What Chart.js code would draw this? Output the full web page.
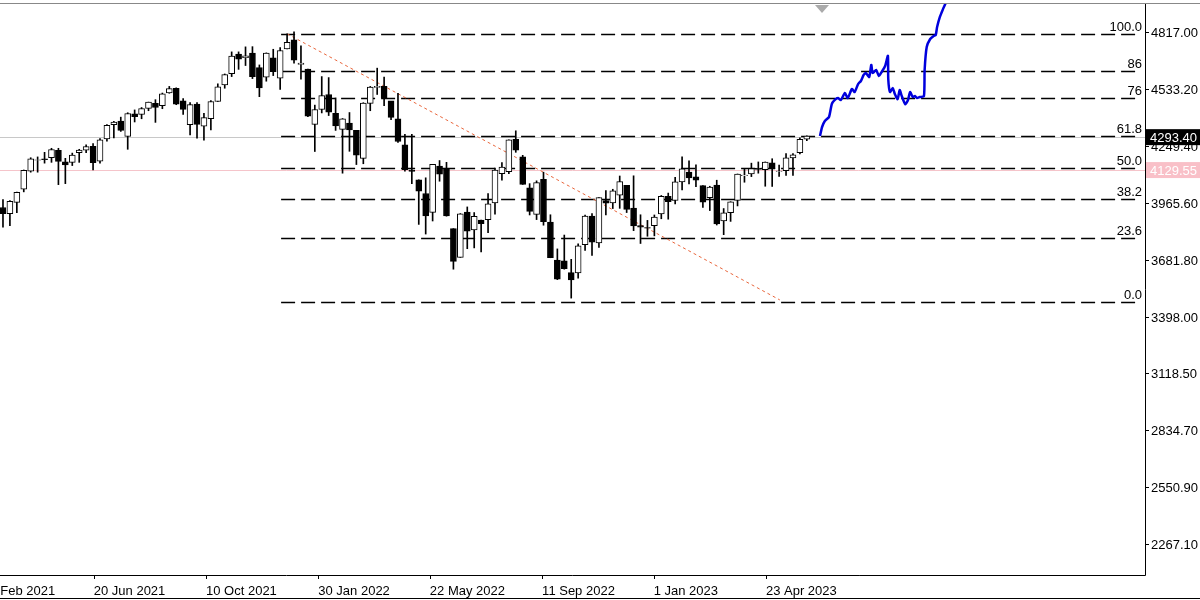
<!DOCTYPE html>
<html><head><meta charset="utf-8">
<script src="https://cdn.jsdelivr.net/npm/chart.js@4.4.0/dist/chart.umd.min.js"></script>
<style>html,body{margin:0;padding:0;background:#fff;}canvas{display:block;}</style>
</head><body>
<canvas id="c" width="1200" height="600"></canvas>
<script>
const opens=[3943,3913,3969,4034,4124,4179,4185,4191,4228,4170,4168,4216,4229,4248,4174,4285,4356,4373,4297,4409,4406,4437,4462,4450,4514,4536,4474,4355,4458,4348,4385,4471,4553,4610,4707,4689,4712,4640,4592,4688,4587,4733,4778,4655,4632,4357,4431,4506,4412,4332,4364,4327,4188,4462,4541,4547,4474,4385,4255,4130,4081,4013,3919,4149,4134,3838,3695,3920,3831,3880,3883,3966,4112,4122,4282,4195,4041,3909,4083,3871,3682,3678,3619,3617,3758,3901,3767,3978,3966,4005,4053,3940,3853,3843,3853,3911,3999,3978,4071,4119,4096,4052,3992,4055,3876,3917,3979,4102,4110,4140,4132,4166,4123,4126,4190,4216,4283];
const highs=[3983,3978,4020,4130,4191,4195,4218,4238,4238,4188,4214,4233,4255,4262,4286,4356,4372,4393,4415,4429,4441,4468,4480,4513,4546,4539,4486,4465,4466,4412,4475,4559,4608,4718,4718,4743,4744,4653,4713,4731,4740,4808,4818,4748,4632,4453,4595,4590,4489,4386,4416,4327,4465,4546,4637,4593,4471,4512,4308,4307,4081,4091,4158,4177,4168,3838,3913,3946,3918,3880,4012,4140,4167,4280,4325,4203,4062,4076,4119,3907,3737,3806,3685,3762,3905,3913,3993,4028,4034,4100,4053,4101,3907,3879,3906,4003,4015,4094,4195,4176,4156,4052,4049,4079,3938,3972,4110,4133,4164,4170,4170,4186,4154,4212,4212,4290,4300];
const lows=[3845,3853,3917,4021,4119,4119,4164,4168,4057,4062,4152,4168,4216,4130,4164,4273,4290,4322,4233,4369,4385,4425,4367,4435,4512,4455,4406,4305,4288,4278,4329,4471,4537,4595,4631,4650,4585,4495,4572,4600,4531,4733,4662,4582,4395,4222,4414,4401,4327,4114,4223,4157,4161,4425,4506,4450,4381,4267,4124,4062,3859,3811,3876,4074,3900,3636,3695,3738,3742,3722,3818,3910,4079,4112,4218,4058,3906,3883,3855,3693,3584,3636,3492,3591,3729,3704,3745,3906,3938,3939,3918,3828,3764,3800,3802,3887,3885,3961,4031,4060,4047,3944,3928,3856,3808,3874,3951,4069,4097,4114,4049,4048,4098,4103,4103,4210,4276];
const closes=[3913,3974,4019,4128,4185,4180,4181,4232,4173,4155,4204,4229,4247,4166,4280,4352,4369,4327,4411,4395,4436,4468,4441,4509,4535,4458,4432,4455,4357,4391,4471,4544,4605,4697,4682,4698,4595,4538,4712,4620,4725,4766,4677,4662,4398,4431,4500,4418,4349,4385,4329,4204,4463,4543,4546,4488,4392,4272,4132,4123,4024,3901,4158,4109,3901,3675,3912,3825,3899,3863,3962,4130,4145,4280,4228,4058,3924,4067,3873,3693,3586,3639,3583,3752,3901,3771,3993,3965,4026,4072,3934,3852,3845,3840,3895,3999,3972,4071,4136,4090,4079,3970,4045,3862,3917,3971,4109,4105,4137,4133,4169,4136,4124,4191,4205,4282,4299];
const projX=[117.9,118.2,118.6,119.2,119.6,120.0,120.5,120.9,121.5,121.9,122.5,122.9,123.4,123.8,124.2,124.5,125.0,125.3,125.5,126.0,126.4,126.8,127.3,127.7,127.75,128.0,128.4,128.7,129.1,129.4,129.7,130.2,130.6,130.9,131.3,131.6,131.9,132.3,132.9,133.0,133.3,133.8,134.3,134.6,134.8,135.2,135.6,136.1];
const projY=[4299,4344,4374,4394,4458,4478,4488,4478,4513,4488,4533,4518,4558,4573,4603,4613,4593,4653,4613,4628,4598,4618,4648,4698,4583,4518,4538,4508,4483,4528,4498,4458,4478,4518,4493,4498,4488,4493,4498,4628,4742,4782,4797,4802,4842,4892,4927,4966];
const yTicks=[4817.00,4533.20,4249.40,3965.60,3681.80,3398.00,3118.50,2834.70,2550.90,2267.10];
const xTickPos=[-3.0,13.1,29.3,45.5,61.6,77.8,93.9,110.1];
const xTickLabels=["28 Feb 2021","20 Jun 2021","10 Oct 2021","30 Jan 2022","22 May 2022","11 Sep 2022","1 Jan 2023","23 Apr 2023"];
const fibLevels=[0,23.6,38.2,50,61.8,76,86,100];
const fibLabels=["0.0","23.6","38.2","50.0","61.8","76","86","100.0"];
const fibHigh=4808, fibLow=3475, fibStart=41;
const trend=[[41,4808],[112.1,3483]];
const bidPrice=4293.40, askPrice=4129.55;

const bodies=opens.map((o,i)=>({x:i,y:[o,closes[i]]}));
const wicks=lows.map((l,i)=>({x:i,y:[l,highs[i]]}));
const bodyFill=opens.map((o,i)=>closes[i]>=o?'#ffffff':'#000000');
const FONT='"Liberation Sans"';

const overlay={id:'overlay',
 beforeDatasetsDraw(ch){const {ctx,chartArea:a,scales:{x,y}}=ch;ctx.save();
  ctx.lineWidth=1;
  ctx.strokeStyle='#c8c8c8';let yy=Math.round(y.getPixelForValue(bidPrice))+0.5;ctx.beginPath();ctx.moveTo(a.left,yy);ctx.lineTo(a.right,yy);ctx.stroke();
  ctx.strokeStyle='#f5c4ca';yy=Math.round(y.getPixelForValue(askPrice))+0.5;ctx.beginPath();ctx.moveTo(a.left,yy);ctx.lineTo(a.right,yy);ctx.stroke();
  ctx.strokeStyle='#000';ctx.setLineDash([14,6]);ctx.lineWidth=1.3;
  ctx.font='13px '+FONT;ctx.fillStyle='#000';ctx.textAlign='right';ctx.textBaseline='bottom';
  fibLevels.forEach((lv,k)=>{const v=fibLow+(fibHigh-fibLow)*lv/100;const py=Math.round(y.getPixelForValue(v))+0.5;
   ctx.beginPath();ctx.moveTo(x.getPixelForValue(fibStart)-6,py);ctx.lineTo(a.right-6,py);ctx.stroke();
   ctx.fillText(fibLabels[k],a.right-3,py-1);});
  ctx.setLineDash([3,3]);ctx.lineWidth=1;ctx.strokeStyle='#e8663c';ctx.beginPath();
  ctx.moveTo(x.getPixelForValue(trend[0][0]),y.getPixelForValue(trend[0][1]));ctx.lineTo(x.getPixelForValue(trend[1][0]),y.getPixelForValue(trend[1][1]));ctx.stroke();
  ctx.restore();},
 afterDraw(ch){const {ctx,chartArea:a,scales:{x,y}}=ch;ctx.save();
  ctx.strokeStyle='#000';ctx.lineWidth=1;ctx.beginPath();ctx.moveTo(a.right+0.5,a.top);ctx.lineTo(a.right+0.5,a.bottom+0.5);ctx.lineTo(a.left,a.bottom+0.5);ctx.stroke();
  ctx.beginPath();ctx.moveTo(0,598.5);ctx.lineTo(1200,598.5);ctx.stroke();
  ctx.strokeStyle='#888';ctx.beginPath();ctx.moveTo(0,a.top-0.5);ctx.lineTo(1200,a.top-0.5);ctx.stroke();
  ctx.fillStyle='#aaa';ctx.beginPath();ctx.moveTo(815,a.top+1);ctx.lineTo(829,a.top+1);ctx.lineTo(822,a.top+9);ctx.closePath();ctx.fill();
  ctx.strokeStyle='#000';
  ctx.font='13px '+FONT;ctx.textBaseline='middle';ctx.textAlign='left';ctx.fillStyle='#000';
  yTicks.forEach(v=>{const py=Math.round(y.getPixelForValue(v))+0.5;ctx.beginPath();ctx.moveTo(a.right,py);ctx.lineTo(a.right+4,py);ctx.stroke();
   ctx.fillText(v.toFixed(2),a.right+6,py+1);});
  xTickPos.forEach(v=>{const px=Math.round(x.getPixelForValue(v))+0.5;ctx.beginPath();ctx.moveTo(px,a.bottom);ctx.lineTo(px,a.bottom+4);ctx.stroke();});
  [[bidPrice,'#000000','#ffffff'],[askPrice,'#f9c0c8','#ffffff']].forEach(([v,bg,fg])=>{const py=y.getPixelForValue(v);
   ctx.fillStyle=bg;ctx.fillRect(a.right+1,py-8,54,16);ctx.fillStyle=fg;ctx.fillText(v.toFixed(2),a.right+5,py+1);});
  ctx.restore();}
};

new Chart(document.getElementById('c'),{
 data:{datasets:[
  {type:'bar',data:wicks,backgroundColor:'#000',borderWidth:0,barThickness:1,grouped:false,order:3},
  {type:'bar',data:bodies,backgroundColor:bodyFill,borderColor:'#000',borderWidth:1,borderSkipped:false,barThickness:6,grouped:false,order:2},
  {type:'line',data:projX.map((v,i)=>({x:v,y:projY[i]})),borderColor:'#0000dd',borderWidth:2.5,pointRadius:0,tension:0.2,order:1}
 ]},
 plugins:[overlay],
 options:{responsive:false,animation:false,
  layout:{padding:{top:4,left:0,right:0,bottom:0}},
  plugins:{legend:{display:false},tooltip:{enabled:false}},
  scales:{
   x:{type:'linear',offset:false,min:-0.43,max:164.8,grid:{display:false},border:{display:false},
    afterBuildTicks(s){s.ticks=xTickPos.map(v=>({value:v}));},
    afterFit(s){s.height=25;s.paddingLeft=0;s.paddingRight=0;},
    ticks:{autoSkip:false,maxRotation:0,align:'start',color:'#000',font:{family:'Liberation Sans',size:13},padding:1,
     callback:(v,i)=>xTickLabels[i]}},
   y:{position:'right',min:2113.4,max:4956.4,grid:{display:false},border:{display:false},
    afterBuildTicks(s){s.ticks=yTicks.map(v=>({value:v}));},
    afterFit(s){s.width=55;s.paddingTop=0;s.paddingBottom=0;},
    ticks:{display:false}}
  }}
});
</script></body></html>
